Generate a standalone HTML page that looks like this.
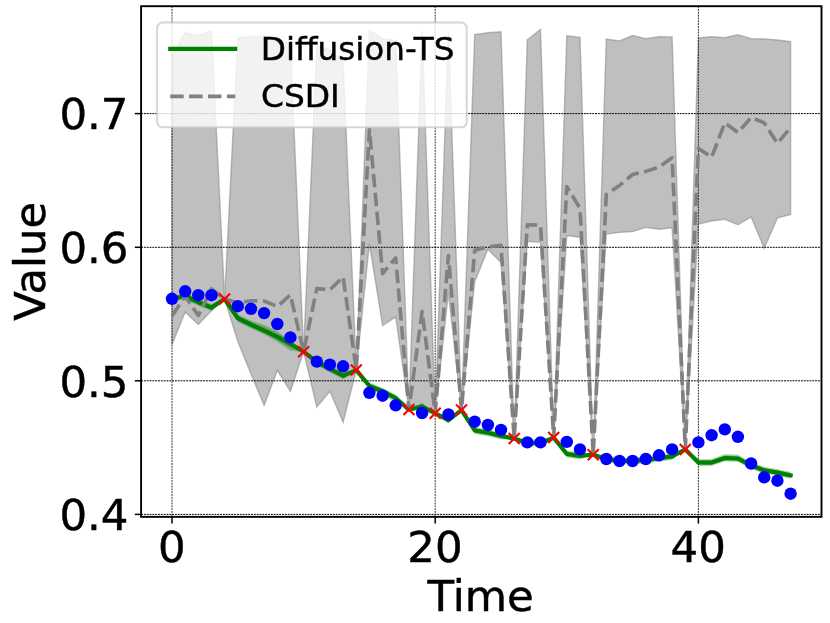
<!DOCTYPE html>
<html><head><meta charset="utf-8"><title>Imputation plot</title>
<style>
html,body{margin:0;padding:0;background:#fff;}
svg{display:block;}
text{font-family:"DejaVu Sans","Liberation Sans",sans-serif;fill:#000;stroke:#000;stroke-width:0.45px;}
</style></head><body>
<svg width="830" height="623" viewBox="0 0 830 623">
<rect x="0" y="0" width="830" height="623" fill="#fff"/>
<defs><clipPath id="ax"><rect x="141.1" y="6.2" width="680.4" height="510.65"/></clipPath></defs>
<g clip-path="url(#ax)">
<polygon points="172.0,55.4 185.2,32.5 198.3,35.7 211.5,30.6 224.6,299.0 237.8,37.8 251.0,36.5 264.1,36.0 277.3,38.0 290.4,44.5 303.6,351.7 316.8,46.0 329.9,50.0 343.1,61.0 356.3,370.1 369.4,30.2 382.6,38.6 395.7,40.3 408.9,409.6 422.1,31.0 435.2,413.3 448.4,31.3 461.5,410.1 474.7,34.5 487.9,32.8 501.0,31.8 514.2,438.6 527.3,39.8 540.5,29.4 553.7,437.6 566.8,35.7 580.0,37.3 593.2,454.7 606.3,39.0 619.5,41.0 632.6,35.5 645.8,38.8 659.0,36.8 672.1,36.9 685.3,449.4 698.4,38.0 711.6,36.6 724.8,37.8 737.9,34.7 751.1,38.6 764.2,39.0 777.4,40.0 790.6,41.7 790.6,214.5 777.4,218.0 764.2,248.2 751.1,216.9 737.9,224.8 724.8,219.3 711.6,221.0 698.4,224.0 685.3,449.4 672.1,227.7 659.0,229.2 645.8,227.4 632.6,231.5 619.5,232.4 606.3,234.0 593.2,454.7 580.0,237.2 566.8,235.5 553.7,437.6 540.5,242.3 527.3,241.3 514.2,438.6 501.0,262.5 487.9,249.3 474.7,281.8 461.5,410.1 448.4,292.7 435.2,413.3 422.1,404.0 408.9,409.6 395.7,317.0 382.6,325.5 369.4,243.6 356.3,370.1 343.1,422.2 329.9,391.3 316.8,407.0 303.6,351.7 290.4,391.3 277.3,370.4 264.1,405.3 251.0,374.0 237.8,341.4 224.6,299.0 211.5,310.7 198.3,324.5 185.2,312.0 172.0,344.6" fill="#808080" fill-opacity="0.5" stroke="#808080" stroke-opacity="0.5" stroke-width="1.4" stroke-linejoin="miter"/>
<polygon points="172.0,297.8 185.2,292.5 198.3,298.7 211.5,304.1 224.6,299.0 237.8,314.4 251.0,320.5 264.1,324.8 277.3,331.3 290.4,340.2 303.6,351.7 316.8,358.5 329.9,365.5 343.1,372.2 356.3,370.1 369.4,382.5 382.6,387.8 395.7,394.5 408.9,409.6 422.1,403.0 435.2,413.3 448.4,416.7 461.5,410.1 474.7,426.9 487.9,429.3 501.0,432.4 514.2,438.6 527.3,439.5 540.5,439.5 553.7,437.6 566.8,450.5 580.0,452.4 593.2,454.7 606.3,455.5 619.5,457.5 632.6,457.5 645.8,456.5 659.0,454.7 672.1,453.0 685.3,449.4 698.4,459.0 711.6,459.1 724.8,454.0 737.9,454.5 751.1,462.0 764.2,466.8 777.4,469.1 790.6,471.8 790.6,478.8 777.4,476.1 764.2,473.8 751.1,469.0 737.9,462.0 724.8,461.5 711.6,466.1 698.4,466.0 685.3,449.4 672.1,460.0 659.0,461.7 645.8,463.5 632.6,464.5 619.5,464.5 606.3,462.5 593.2,454.7 580.0,459.4 566.8,457.5 553.7,437.6 540.5,446.5 527.3,446.5 514.2,438.6 501.0,439.4 487.9,436.3 474.7,433.9 461.5,410.1 448.4,423.7 435.2,413.3 422.1,410.0 408.9,409.6 395.7,402.5 382.6,395.3 369.4,389.5 356.3,370.1 343.1,379.2 329.9,372.5 316.8,365.5 303.6,351.7 290.4,350.7 277.3,341.8 264.1,334.5 251.0,328.5 237.8,322.0 224.6,299.0 211.5,311.1 198.3,305.7 185.2,299.5 172.0,299.8" fill="#008000" fill-opacity="0.3" stroke="none"/>
<polygon points="172.0,298.1 185.2,293.6 198.3,299.8 211.5,305.2 224.6,299.0 237.8,315.5 251.0,321.8 264.1,326.5 277.3,332.9 290.4,341.3 303.6,351.7 316.8,359.6 329.9,366.6 343.1,373.2 356.3,370.1 369.4,383.6 382.6,388.9 395.7,395.6 408.9,409.6 422.1,404.1 435.2,413.3 448.4,417.8 461.5,410.1 474.7,427.9 487.9,430.4 501.0,433.4 514.2,438.6 527.3,440.6 540.5,440.6 553.7,437.6 566.8,451.6 580.0,453.4 593.2,454.7 606.3,456.6 619.5,458.6 632.6,458.6 645.8,457.6 659.0,455.8 672.1,454.1 685.3,449.4 698.4,460.1 711.6,460.2 724.8,455.2 737.9,455.7 751.1,463.1 764.2,467.9 777.4,470.2 790.6,472.9 790.6,477.8 777.4,475.1 764.2,472.8 751.1,467.9 737.9,460.9 724.8,460.4 711.6,465.1 698.4,464.9 685.3,449.4 672.1,458.9 659.0,460.6 645.8,462.4 632.6,463.4 619.5,463.4 606.3,461.4 593.2,454.7 580.0,458.3 566.8,456.4 553.7,437.6 540.5,445.4 527.3,445.4 514.2,438.6 501.0,438.3 487.9,435.2 474.7,432.8 461.5,410.1 448.4,422.6 435.2,413.3 422.1,408.9 408.9,409.6 395.7,401.1 382.6,394.1 369.4,388.4 356.3,370.1 343.1,378.1 329.9,371.4 316.8,364.4 303.6,351.7 290.4,348.6 277.3,340.3 264.1,333.3 251.0,327.4 237.8,320.9 224.6,299.0 211.5,310.1 198.3,304.6 185.2,298.4 172.0,299.5" fill="#008000" fill-opacity="0.3" stroke="none"/>

<line x1="141.1" y1="514.4" x2="821.5" y2="514.4" stroke="#000" stroke-width="1.0" stroke-dasharray="1.9,0.92"/>
<line x1="141.1" y1="380.8" x2="821.5" y2="380.8" stroke="#000" stroke-width="1.0" stroke-dasharray="1.9,0.92"/>
<line x1="141.1" y1="247.3" x2="821.5" y2="247.3" stroke="#000" stroke-width="1.0" stroke-dasharray="1.9,0.92"/>
<line x1="141.1" y1="113.6" x2="821.5" y2="113.6" stroke="#000" stroke-width="1.0" stroke-dasharray="1.9,0.92"/>
<line x1="172.0" y1="6.2" x2="172.0" y2="516.85" stroke="#000" stroke-width="0.8" stroke-dasharray="1.9,0.92"/>
<line x1="435.2" y1="6.2" x2="435.2" y2="516.85" stroke="#000" stroke-width="0.8" stroke-dasharray="1.9,0.92"/>
<line x1="698.4" y1="6.2" x2="698.4" y2="516.85" stroke="#000" stroke-width="0.8" stroke-dasharray="1.9,0.92"/>
<polyline points="172.0,298.8 185.2,296.0 198.3,302.2 211.5,307.6 224.6,299.0 237.8,318.2 251.0,324.7 264.1,330.6 277.3,336.8 290.4,343.8 303.6,351.7 316.8,362.0 329.9,369.0 343.1,375.7 356.3,370.1 369.4,386.0 382.6,391.3 395.7,398.0 408.9,409.6 422.1,406.5 435.2,413.3 448.4,420.2 461.5,410.1 474.7,430.4 487.9,432.8 501.0,435.9 514.2,438.6 527.3,443.0 540.5,443.0 553.7,437.6 566.8,454.0 580.0,455.9 593.2,454.7 606.3,459.0 619.5,461.0 632.6,461.0 645.8,460.0 659.0,458.2 672.1,456.5 685.3,449.4 698.4,462.5 711.6,462.6 724.8,458.0 737.9,458.5 751.1,465.5 764.2,470.3 777.4,472.6 790.6,475.3" fill="none" stroke="#008000" stroke-width="4.2" stroke-linejoin="round" stroke-linecap="square"/>
<polyline points="172.0,316.0 185.2,296.3 198.3,315.5 211.5,288.8 224.6,299.0 237.8,303.0 251.0,300.7 264.1,301.0 277.3,306.5 290.4,294.8 303.6,351.7 316.8,288.6 329.9,289.8 343.1,277.0 356.3,370.1 369.4,129.6 382.6,273.5 395.7,257.8 408.9,409.6 422.1,311.5 435.2,413.3 448.4,255.5 461.5,410.1 474.7,250.3 487.9,247.0 501.0,245.2 514.2,438.6 527.3,224.7 540.5,225.2 553.7,437.6 566.8,186.6 580.0,208.3 593.2,454.7 606.3,194.6 619.5,185.4 632.6,174.5 645.8,171.4 659.0,167.0 672.1,157.8 685.3,449.4 698.4,148.2 711.6,157.3 724.8,122.9 737.9,132.5 751.1,117.5 764.2,122.9 777.4,143.4 790.6,127.5" fill="none" stroke="#808080" stroke-width="3.6" stroke-dasharray="13.5,5.4" stroke-linejoin="round"/>
<circle cx="172.0" cy="298.8" r="6.2" fill="#0000ff"/>
<circle cx="185.2" cy="291.3" r="6.2" fill="#0000ff"/>
<circle cx="198.3" cy="295.2" r="6.2" fill="#0000ff"/>
<circle cx="211.5" cy="295.2" r="6.2" fill="#0000ff"/>
<circle cx="237.8" cy="306.2" r="6.2" fill="#0000ff"/>
<circle cx="251.0" cy="308.8" r="6.2" fill="#0000ff"/>
<circle cx="264.1" cy="313.1" r="6.2" fill="#0000ff"/>
<circle cx="277.3" cy="324.0" r="6.2" fill="#0000ff"/>
<circle cx="290.4" cy="337.4" r="6.2" fill="#0000ff"/>
<circle cx="316.8" cy="361.6" r="6.2" fill="#0000ff"/>
<circle cx="329.9" cy="364.6" r="6.2" fill="#0000ff"/>
<circle cx="343.1" cy="366.3" r="6.2" fill="#0000ff"/>
<circle cx="369.4" cy="392.8" r="6.2" fill="#0000ff"/>
<circle cx="382.6" cy="395.7" r="6.2" fill="#0000ff"/>
<circle cx="395.7" cy="405.3" r="6.2" fill="#0000ff"/>
<circle cx="422.1" cy="413.0" r="6.2" fill="#0000ff"/>
<circle cx="448.4" cy="414.5" r="6.2" fill="#0000ff"/>
<circle cx="474.7" cy="421.7" r="6.2" fill="#0000ff"/>
<circle cx="487.9" cy="425.0" r="6.2" fill="#0000ff"/>
<circle cx="501.0" cy="429.9" r="6.2" fill="#0000ff"/>
<circle cx="527.3" cy="442.4" r="6.2" fill="#0000ff"/>
<circle cx="540.5" cy="442.4" r="6.2" fill="#0000ff"/>
<circle cx="566.8" cy="441.9" r="6.2" fill="#0000ff"/>
<circle cx="580.0" cy="449.4" r="6.2" fill="#0000ff"/>
<circle cx="606.3" cy="459.0" r="6.2" fill="#0000ff"/>
<circle cx="619.5" cy="461.0" r="6.2" fill="#0000ff"/>
<circle cx="632.6" cy="461.0" r="6.2" fill="#0000ff"/>
<circle cx="645.8" cy="459.0" r="6.2" fill="#0000ff"/>
<circle cx="659.0" cy="455.3" r="6.2" fill="#0000ff"/>
<circle cx="672.1" cy="449.4" r="6.2" fill="#0000ff"/>
<circle cx="698.4" cy="442.4" r="6.2" fill="#0000ff"/>
<circle cx="711.6" cy="435.2" r="6.2" fill="#0000ff"/>
<circle cx="724.8" cy="429.4" r="6.2" fill="#0000ff"/>
<circle cx="737.9" cy="436.8" r="6.2" fill="#0000ff"/>
<circle cx="751.1" cy="463.5" r="6.2" fill="#0000ff"/>
<circle cx="764.2" cy="477.3" r="6.2" fill="#0000ff"/>
<circle cx="777.4" cy="480.7" r="6.2" fill="#0000ff"/>
<circle cx="790.6" cy="493.7" r="6.2" fill="#0000ff"/>
<path d="M219.1,293.5L230.1,304.5M219.1,304.5L230.1,293.5" stroke="#ff0000" stroke-width="2.1" fill="none"/>
<path d="M298.1,346.2L309.1,357.2M298.1,357.2L309.1,346.2" stroke="#ff0000" stroke-width="2.1" fill="none"/>
<path d="M350.8,364.6L361.8,375.6M350.8,375.6L361.8,364.6" stroke="#ff0000" stroke-width="2.1" fill="none"/>
<path d="M403.4,404.1L414.4,415.1M403.4,415.1L414.4,404.1" stroke="#ff0000" stroke-width="2.1" fill="none"/>
<path d="M429.7,407.8L440.7,418.8M429.7,418.8L440.7,407.8" stroke="#ff0000" stroke-width="2.1" fill="none"/>
<path d="M456.0,404.6L467.0,415.6M456.0,415.6L467.0,404.6" stroke="#ff0000" stroke-width="2.1" fill="none"/>
<path d="M508.7,433.1L519.7,444.1M508.7,444.1L519.7,433.1" stroke="#ff0000" stroke-width="2.1" fill="none"/>
<path d="M548.2,432.1L559.2,443.1M548.2,443.1L559.2,432.1" stroke="#ff0000" stroke-width="2.1" fill="none"/>
<path d="M587.7,449.2L598.7,460.2M587.7,460.2L598.7,449.2" stroke="#ff0000" stroke-width="2.1" fill="none"/>
<path d="M679.8,443.9L690.8,454.9M679.8,454.9L690.8,443.9" stroke="#ff0000" stroke-width="2.1" fill="none"/>
</g>
<rect x="141.1" y="6.2" width="680.4" height="510.65000000000003" fill="none" stroke="#000" stroke-width="1.9"/>
<line x1="134.8" y1="514.4" x2="141.1" y2="514.4" stroke="#000" stroke-width="1.5"/>
<text transform="translate(128.5,530.2) scale(1.008,1)" font-size="43.1" text-anchor="end">0.4</text>
<line x1="134.8" y1="380.8" x2="141.1" y2="380.8" stroke="#000" stroke-width="1.5"/>
<text transform="translate(128.5,396.6) scale(1.008,1)" font-size="43.1" text-anchor="end">0.5</text>
<line x1="134.8" y1="247.3" x2="141.1" y2="247.3" stroke="#000" stroke-width="1.5"/>
<text transform="translate(128.5,263.1) scale(1.008,1)" font-size="43.1" text-anchor="end">0.6</text>
<line x1="134.8" y1="113.6" x2="141.1" y2="113.6" stroke="#000" stroke-width="1.5"/>
<text transform="translate(128.5,129.4) scale(1.008,1)" font-size="43.1" text-anchor="end">0.7</text>
<line x1="172.0" y1="516.85" x2="172.0" y2="523.6" stroke="#000" stroke-width="1.5"/>
<text transform="translate(171.8,562.4) scale(1.008,1)" font-size="43.1" text-anchor="middle">0</text>
<line x1="435.2" y1="516.85" x2="435.2" y2="523.6" stroke="#000" stroke-width="1.5"/>
<text transform="translate(435.0,562.4) scale(1.008,1)" font-size="43.1" text-anchor="middle">20</text>
<line x1="698.4" y1="516.85" x2="698.4" y2="523.6" stroke="#000" stroke-width="1.5"/>
<text transform="translate(698.2,562.4) scale(1.008,1)" font-size="43.1" text-anchor="middle">40</text>
<text transform="translate(480.6,611.1) scale(1.008,1)" font-size="43.1" text-anchor="middle">Time</text>
<text transform="translate(44.6,261.4) rotate(-90)" font-size="43.3" text-anchor="middle">Value</text>
<rect x="157.1" y="22.6" width="309.6" height="104.7" rx="5.5" ry="5.5" fill="#fff" fill-opacity="0.8" stroke="#cccccc" stroke-opacity="0.8" stroke-width="2"/>
<line x1="168.2" y1="48.8" x2="237.2" y2="48.8" stroke="#008000" stroke-width="4.2"/>
<line x1="170.2" y1="96.4" x2="235.2" y2="96.4" stroke="#808080" stroke-width="3.6" stroke-dasharray="13.5,5.4"/>
<text transform="translate(260.8,60.0) scale(1.011,1)" font-size="32.3" text-anchor="start">Diffusion-TS</text>
<text transform="translate(261.0,107.2) scale(1.017,1)" font-size="32.3" text-anchor="start">CSDI</text>
</svg></body></html>
